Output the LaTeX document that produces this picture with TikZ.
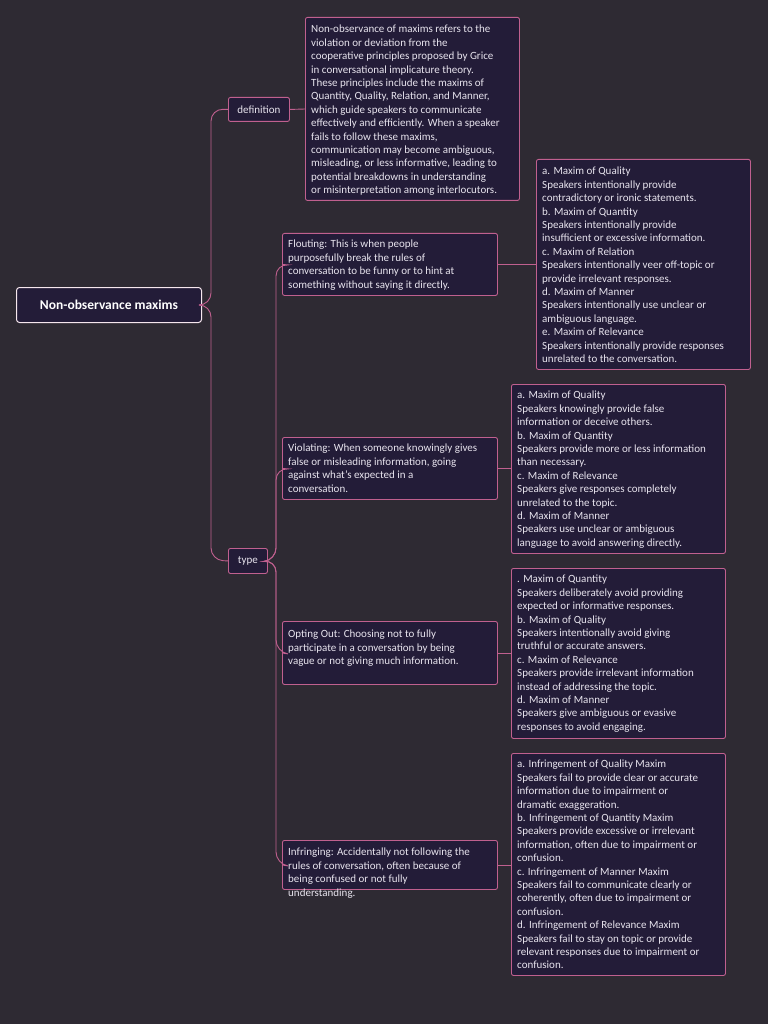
\documentclass[tikz,border=0pt]{standalone}
\usepackage{fontspec}
\setmainfont{Carlito}
\definecolor{bg}{HTML}{2E2A33}
\definecolor{boxf}{HTML}{231C38}
\definecolor{pk}{HTML}{C0608F}
\definecolor{tx}{HTML}{E8E4EE}
\begin{document}
\begin{tikzpicture}[x=1pt,y=-1pt,
  box/.style={draw=pk,fill=boxf,rounded corners=2pt,line width=0.9pt,anchor=north west,inner sep=0pt},
  txt/.style={text=tx,align=left,anchor=north west,inner sep=0pt,yshift=-3pt,font=\fontsize{11}{13.4}\selectfont},
  con/.style={draw=pk,line width=0.9pt,rounded corners=12pt}]
\fill[bg] (0,0) rectangle (768,1024);
\useasboundingbox (0,0) rectangle (768,1024);
% root
\node[box,draw=white!85!pk,line width=1pt,rounded corners=3pt,minimum width=185pt,minimum height=35pt] (root) at (16,287) {};
\node[text=white,font=\bfseries\fontsize{13.5}{16}\selectfont] at (root.center) {Non-observance maxims};
% level 1
\node[box,minimum width=61pt,minimum height=24pt] (def) at (228,97) {};
\node[text=tx,font=\fontsize{11}{13.4}\selectfont] at (def.center) {definition};
\node[box,minimum width=39pt,minimum height=25pt] (type) at (228,548) {};
\node[text=tx,font=\fontsize{11}{13.4}\selectfont] at (type.center) {type};
% definition text
\node[box,minimum width=214pt,minimum height=183pt] (deft) at (305,17) {};
\node[txt] at (311,22) {Non-observance of maxims refers to the\\violation or deviation from the\\cooperative principles proposed by Grice\\in conversational implicature theory.\\These principles include the maxims of\\Quantity, Quality, Relation, and Manner,\\which guide speakers to communicate\\effectively and efficiently. When a speaker\\fails to follow these maxims,\\communication may become ambiguous,\\misleading, or less informative, leading to\\potential breakdowns in understanding\\or misinterpretation among interlocutors.};
% types
\node[box,minimum width=215pt,minimum height=62pt] (flo) at (282,233) {};
\node[txt] at (288,237) {Flouting: This is when people\\purposefully break the rules of\\conversation to be funny or to hint at\\something without saying it directly.};
\node[box,minimum width=215pt,minimum height=62pt] (vio) at (282,437) {};
\node[txt] at (288,441) {Violating: When someone knowingly gives\\false or misleading information, going\\against what's expected in a\\conversation.};
\node[box,minimum width=215pt,minimum height=63pt] (opt) at (282,621) {};
\node[txt] at (288,627) {Opting Out: Choosing not to fully\\participate in a conversation by being\\vague or not giving much information.};
\node[box,minimum width=215pt,minimum height=49pt] (inf) at (282,840) {};
\node[txt] at (288,845) {Infringing: Accidentally not following the\\rules of conversation, often because of\\being confused or not fully\\understanding.};
% lists
\node[box,minimum width=214pt,minimum height=210pt] (flol) at (536,159) {};
\node[txt] at (542,164) {a. Maxim of Quality\\Speakers intentionally provide\\contradictory or ironic statements.\\b. Maxim of Quantity\\Speakers intentionally provide\\insufficient or excessive information.\\c. Maxim of Relation\\Speakers intentionally veer off-topic or\\provide irrelevant responses.\\d. Maxim of Manner\\Speakers intentionally use unclear or\\ambiguous language.\\e. Maxim of Relevance\\Speakers intentionally provide responses\\unrelated to the conversation.};
\node[box,minimum width=214pt,minimum height=169pt] (viol) at (511,384) {};
\node[txt] at (517,388) {a. Maxim of Quality\\Speakers knowingly provide false\\information or deceive others.\\b. Maxim of Quantity\\Speakers provide more or less information\\than necessary.\\c. Maxim of Relevance\\Speakers give responses completely\\unrelated to the topic.\\d. Maxim of Manner\\Speakers use unclear or ambiguous\\language to avoid answering directly.};
\node[box,minimum width=214pt,minimum height=170pt] (optl) at (511,568) {};
\node[txt] at (517,572) {. Maxim of Quantity\\Speakers deliberately avoid providing\\expected or informative responses.\\b. Maxim of Quality\\Speakers intentionally avoid giving\\truthful or accurate answers.\\c. Maxim of Relevance\\Speakers provide irrelevant information\\instead of addressing the topic.\\d. Maxim of Manner\\Speakers give ambiguous or evasive\\responses to avoid engaging.};
\node[box,minimum width=214pt,minimum height=222pt] (infl) at (511,753) {};
\node[txt] at (517,757) {a. Infringement of Quality Maxim\\Speakers fail to provide clear or accurate\\information due to impairment or\\dramatic exaggeration.\\b. Infringement of Quantity Maxim\\Speakers provide excessive or irrelevant\\information, often due to impairment or\\confusion.\\c. Infringement of Manner Maxim\\Speakers fail to communicate clearly or\\coherently, often due to impairment or\\confusion.\\d. Infringement of Relevance Maxim\\Speakers fail to stay on topic or provide\\relevant responses due to impairment or\\confusion.};
% connectors
\draw[con] (root.east) -- (211,305|-root.east) -- (211,109) -- (def.west);
\draw[con] (root.east) -- (211,305|-root.east) -- (211,560) -- (type.west);
\draw[con] (def.east) -- (305,109);
\foreach \n/\y in {flo/264,vio/468,opt/652,inf/864}{
  \draw[con] (type.east) -- (276,560) -- (276,\y) -- (\n.west);
}
\draw[con] (flo.east) -- (flol.west|-flo.east);
\draw[con] (vio.east) -- (viol.west|-vio.east);
\draw[con] (opt.east) -- (optl.west|-opt.east);
\draw[con] (inf.east) -- (infl.west|-inf.east);
\end{tikzpicture}
\end{document}
